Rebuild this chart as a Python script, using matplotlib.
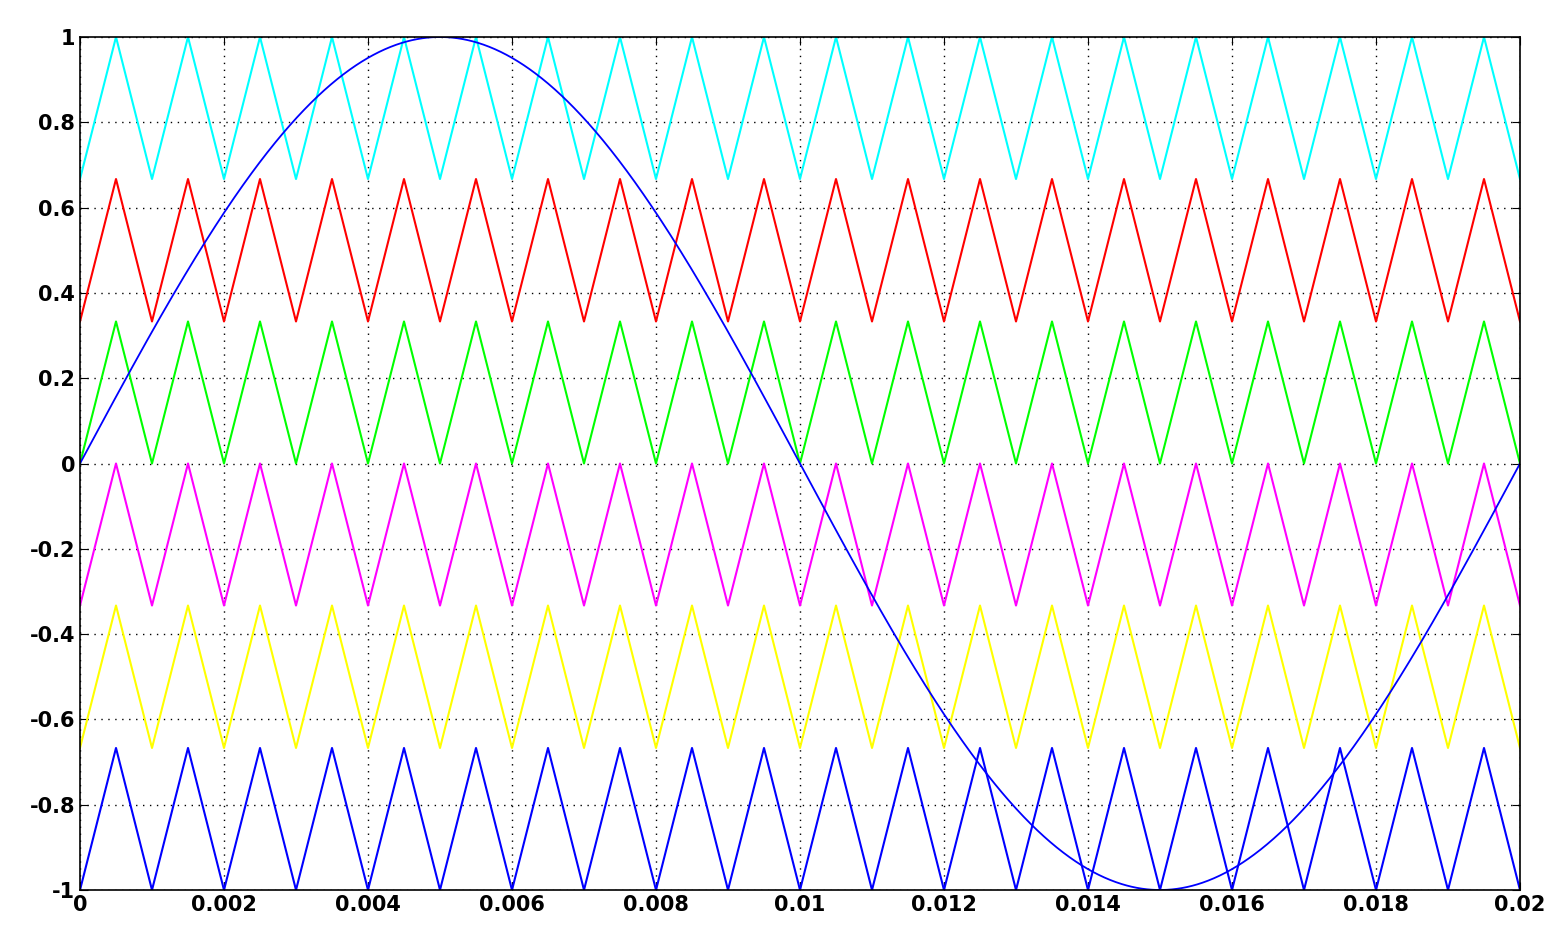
import numpy as np
import matplotlib
matplotlib.use("Agg")
import matplotlib.pyplot as plt

# carrier bands (low, high) and colours
band_low = [0.667, 0.333, 0.0, -0.333, -0.667, -1.0]
band_high = [1.0, 0.667, 0.333, 0.0, -0.333, -0.667]
band_colors = ["#00ffff", "#ff0000", "#00ff00", "#ff00ff", "#ffff00", "#0000ff"]
carrier_period = 0.001
t_end = 0.02
sine_freq = 50
sine_amp = 1.0
xticks = [0, 0.002, 0.004, 0.006, 0.008, 0.01, 0.012, 0.014, 0.016, 0.018, 0.02]
xticklabels = ["0", "0.002", "0.004", "0.006", "0.008", "0.01", "0.012", "0.014", "0.016", "0.018", "0.02"]
yticks = [-1, -0.8, -0.6, -0.4, -0.2, 0, 0.2, 0.4, 0.6, 0.8, 1]
yticklabels = ["-1", "-0.8", "-0.6", "-0.4", "-0.2", "0", "0.2", "0.4", "0.6", "0.8", "1"]

fig = plt.figure(figsize=(15.55, 9.27), dpi=100)
ax = fig.add_axes([80/1555, 37/927, (1520-80)/1555, (890-37)/927])

tv = np.arange(0, t_end + carrier_period/4, carrier_period/2)
for lo, hi, c in zip(band_low, band_high, band_colors):
    yv = np.where(np.arange(len(tv)) % 2 == 0, lo, hi)
    ax.plot(tv, yv, color=c, lw=1.5)

t = np.linspace(0, t_end, 2000)
ax.plot(t, sine_amp*np.sin(2*np.pi*sine_freq*t), color="#0000ff", lw=1.3)

ax.set_xlim(0, t_end)
ax.set_ylim(-1, 1)
ax.set_xticks(xticks)
ax.set_xticklabels(xticklabels)
ax.set_yticks(yticks)
ax.set_yticklabels(yticklabels)
ax.grid(True, color="black", linestyle=(0, (1, 4)), lw=1)
ax.tick_params(labelsize=15, direction="in", length=6, top=True, right=True)
for l in ax.get_xticklabels() + ax.get_yticklabels():
    l.set_fontweight("bold")
for s in ax.spines.values():
    s.set_linewidth(1.2)
fig.savefig("out.png", dpi=100)
